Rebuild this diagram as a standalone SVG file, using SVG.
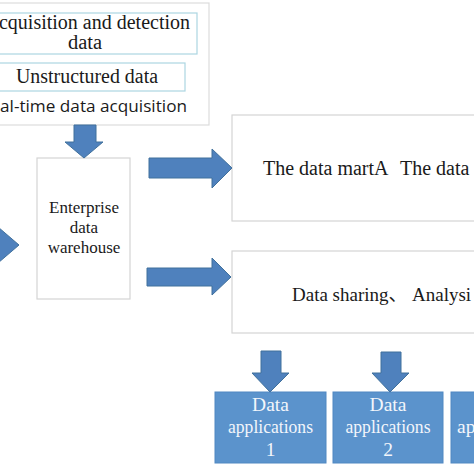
<svg xmlns="http://www.w3.org/2000/svg" width="474" height="474" viewBox="0 0 474 474">
<defs>
<style>
.panel{fill:#ffffff;stroke:#dcdcdc;stroke-width:1.2}
.inner{fill:#ffffff;stroke:#acd6e2;stroke-width:1.2}
.box{fill:#ffffff;stroke:#d4d4d4;stroke-width:1.2}
.app{fill:#5b93cc;stroke:#5088c2;stroke-width:1}
.arrow{fill:#4f81bd;stroke:#41719c;stroke-width:1}
.serif{font-family:"Liberation Serif","Noto Sans CJK SC",serif;fill:#1a1a1a}
.sans{font-family:"Open Sans","Noto Sans",sans-serif;fill:#1a1a1a}
.apptxt{font-family:"Liberation Serif",serif;font-size:19.5px;fill:#f3f6fb;text-anchor:middle}
</style>
</defs>
<rect width="474" height="474" fill="#ffffff"/>

<g id="sources">
<rect class="panel" x="-10" y="3" width="219" height="122"/>
<rect class="inner" x="-30" y="13" width="227" height="41"/>
<text class="serif" x="-1" y="29" font-size="20.5" textLength="191" lengthAdjust="spacingAndGlyphs">cquisition and detection</text>
<text class="serif" x="85" y="49" font-size="20.5" text-anchor="middle">data</text>
<rect class="inner" x="-12" y="63" width="197" height="28"/>
<text class="serif" x="87" y="83" font-size="20.5" text-anchor="middle" textLength="142" lengthAdjust="spacingAndGlyphs">Unstructured data</text>
<text class="sans" x="0" y="112" font-size="17" textLength="187" lengthAdjust="spacingAndGlyphs">al-time data acquisition</text>
</g>

<g id="warehouse">
<rect class="box" x="37" y="158" width="93" height="141"/>
<text class="serif" font-size="17" text-anchor="middle"><tspan x="84" y="213">Enterprise</tspan><tspan x="84" y="233">data</tspan><tspan x="84" y="253">warehouse</tspan></text>
</g>

<g id="datamart">
<rect class="box" x="232" y="115" width="260" height="106"/>
<text class="serif" font-size="20" y="175"><tspan x="263">The data martA</tspan><tspan x="400">The data</tspan></text>
</g>

<g id="sharing">
<rect class="box" x="232" y="251" width="260" height="82"/>
<text class="serif" font-size="19" y="301"><tspan x="292">Data sharing、</tspan><tspan x="412">Analysi</tspan></text>
</g>

<g id="app1">
<rect class="app" x="215" y="392" width="111" height="71"/>
<text class="apptxt"><tspan x="270.5" y="411">Data</tspan><tspan x="270.5" y="433" textLength="85" lengthAdjust="spacingAndGlyphs">applications</tspan><tspan x="270.5" y="456">1</tspan></text>
</g>

<g id="app2">
<rect class="app" x="333" y="392" width="110" height="71"/>
<text class="apptxt"><tspan x="388" y="411">Data</tspan><tspan x="388" y="433" textLength="85" lengthAdjust="spacingAndGlyphs">applications</tspan><tspan x="388" y="456">2</tspan></text>
</g>

<g id="app3">
<rect class="app" x="451" y="392" width="111" height="71"/>
<text class="apptxt" style="text-anchor:start" x="457" y="433">ap</text>
</g>

<g id="connectors">
<polygon class="arrow" points="74,125 96,125 96,142 103,142 84,158 65,142 74,142"/>
<polygon class="arrow" points="-20,236 -2,236 -2,227 19,245 -2,263 -2,254 -20,254"/>
<polygon class="arrow" points="149,158 212,158 212,149 232,168 212,188 212,178 149,178"/>
<polygon class="arrow" points="147,268 212,268 212,258 231,277 212,295 212,286 147,286"/>
<polygon class="arrow" points="261,351 281,351 281,373 289,373 270,392 252,373 261,373"/>
<polygon class="arrow" points="381,352 401,352 401,373 409,373 390,392 372,373 381,373"/>
</g>
</svg>
